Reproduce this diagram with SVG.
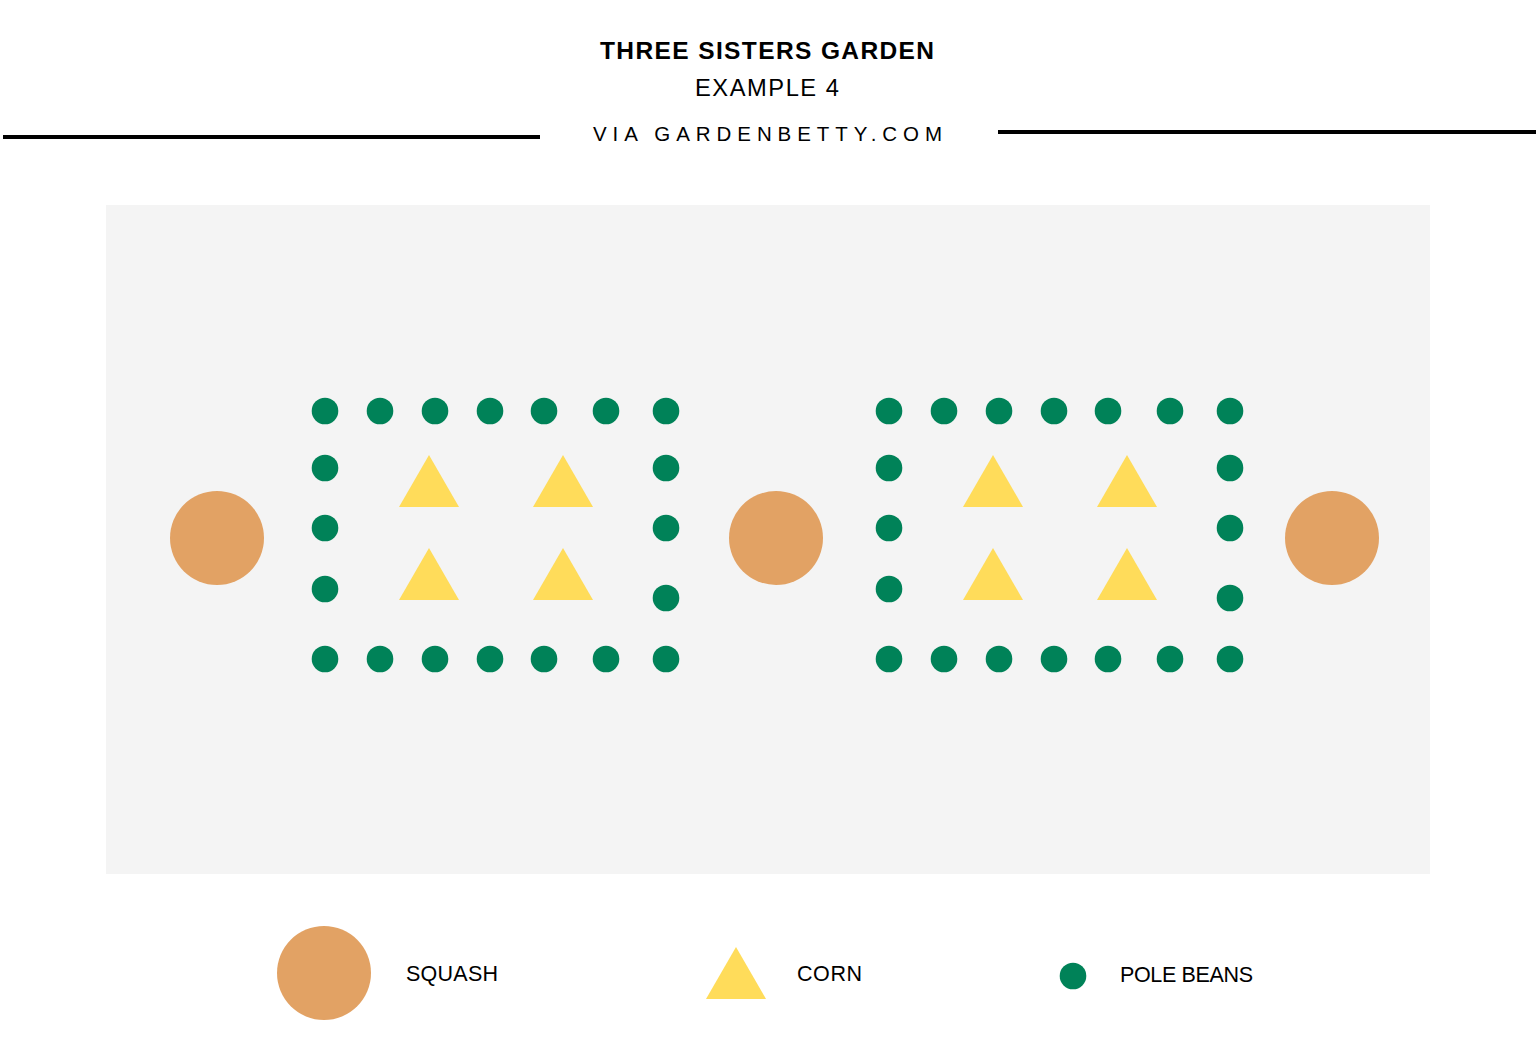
<svg xmlns="http://www.w3.org/2000/svg" width="1536" height="1056" viewBox="0 0 1536 1056">
<style>
.t{font-family:"Liberation Sans",Arial,sans-serif;fill:#000;}
.bean{fill:#008258;}
.squash{fill:#e2a264;}
.corn{fill:#ffdc5a;}
.rule{stroke:#000;stroke-width:4;}
</style>
<defs>
<circle id="b" r="13.3" class="bean"/>
<polygon id="c" points="0,0 30,52 -30,52" class="corn"/>
</defs>
<rect width="1536" height="1056" fill="#fff"/>
<g id="header">
<text class="t" x="600" y="59" font-size="24.5" font-weight="bold" textLength="334" lengthAdjust="spacing">THREE SISTERS GARDEN</text>
<text class="t" x="695" y="96" font-size="23.7" textLength="144" lengthAdjust="spacing">EXAMPLE 4</text>
<text class="t" x="593" y="141" font-size="20.5" textLength="349" lengthAdjust="spacing">VIA GARDENBETTY.COM</text>
<line class="rule" x1="3" y1="137" x2="540" y2="137"/>
<line class="rule" x1="998" y1="132" x2="1536" y2="132"/>
</g>
<rect id="bed" x="106" y="205" width="1324" height="669" fill="#f4f4f4"/>
<g id="squash-plants">
<circle class="squash" cx="217" cy="538" r="47"/>
<circle class="squash" cx="776" cy="538" r="47"/>
<circle class="squash" cx="1332" cy="538" r="47"/>
</g>
<g id="group-left">
<use href="#b" x="325" y="411"/><use href="#b" x="380" y="411"/><use href="#b" x="435" y="411"/><use href="#b" x="490" y="411"/><use href="#b" x="544" y="411"/><use href="#b" x="606" y="411"/><use href="#b" x="666" y="411"/>
<use href="#b" x="325" y="468"/><use href="#b" x="325" y="528"/><use href="#b" x="325" y="589"/>
<use href="#b" x="666" y="468"/><use href="#b" x="666" y="528"/><use href="#b" x="666" y="598"/>
<use href="#b" x="325" y="659"/><use href="#b" x="380" y="659"/><use href="#b" x="435" y="659"/><use href="#b" x="490" y="659"/><use href="#b" x="544" y="659"/><use href="#b" x="606" y="659"/><use href="#b" x="666" y="659"/>
<use href="#c" x="429" y="455"/><use href="#c" x="563" y="455"/>
<use href="#c" x="429" y="548"/><use href="#c" x="563" y="548"/>
</g>
<g id="group-right" transform="translate(564,0)">
<use href="#b" x="325" y="411"/><use href="#b" x="380" y="411"/><use href="#b" x="435" y="411"/><use href="#b" x="490" y="411"/><use href="#b" x="544" y="411"/><use href="#b" x="606" y="411"/><use href="#b" x="666" y="411"/>
<use href="#b" x="325" y="468"/><use href="#b" x="325" y="528"/><use href="#b" x="325" y="589"/>
<use href="#b" x="666" y="468"/><use href="#b" x="666" y="528"/><use href="#b" x="666" y="598"/>
<use href="#b" x="325" y="659"/><use href="#b" x="380" y="659"/><use href="#b" x="435" y="659"/><use href="#b" x="490" y="659"/><use href="#b" x="544" y="659"/><use href="#b" x="606" y="659"/><use href="#b" x="666" y="659"/>
<use href="#c" x="429" y="455"/><use href="#c" x="563" y="455"/>
<use href="#c" x="429" y="548"/><use href="#c" x="563" y="548"/>
</g>
<g id="legend-squash">
<circle class="squash" cx="324" cy="973" r="47"/>
<text class="t" x="406" y="981" font-size="21.5" textLength="92" lengthAdjust="spacing">SQUASH</text>
</g>
<g id="legend-corn">
<use href="#c" x="736" y="947"/>
<text class="t" x="797" y="981" font-size="21.5" textLength="65" lengthAdjust="spacing">CORN</text>
</g>
<g id="legend-beans">
<use href="#b" x="1073" y="976"/>
<text class="t" x="1120" y="982" font-size="21.5" textLength="133" lengthAdjust="spacing">POLE BEANS</text>
</g>
<g id="connectors"/>
</svg>
